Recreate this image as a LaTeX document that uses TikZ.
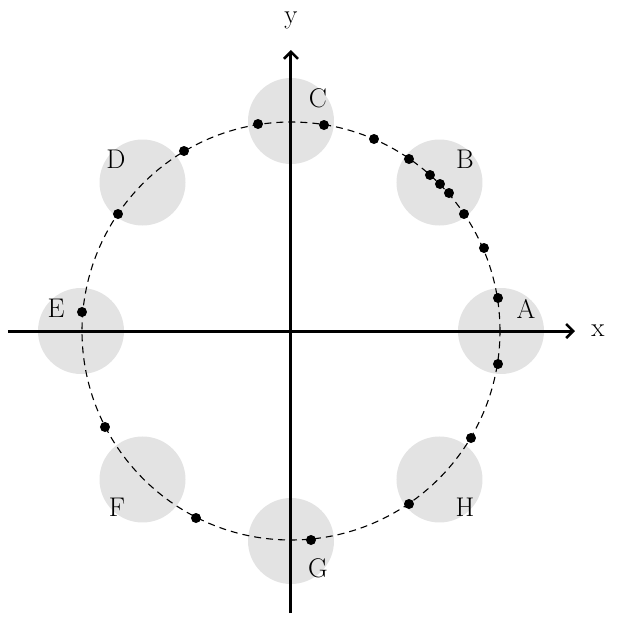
\documentclass[tikz,border=0pt]{standalone}
\usetikzlibrary{arrows.meta}
\begin{document}
\begin{tikzpicture}[x=1pt,y=1pt,
  disc/.style={circle,fill=black!11,minimum size=86pt,inner sep=0pt},
  dot/.style={circle,fill=black,minimum size=10pt,inner sep=0pt},
  lab/.style={font=\fontsize{27}{30}\selectfont},
  axis/.style={line width=3pt,-{Straight Barb[length=7pt,width=14pt,line width=2.5pt]}}]
\useasboundingbox (-291,-294) rectangle (331,331);
\foreach \a/\n in {0/dA,45/dB,90/dC,135/dD,180/dE,225/dF,270/dG,315/dH}
  \node[disc] (\n) at (\a:210) {};
\draw[dashed,line width=1.1pt,dash pattern=on 7pt off 5pt] (0,0) circle (209);
\coordinate (xl) at (-283,0); \coordinate (xr) at (284,0);
\coordinate (yb) at (0,-282); \coordinate (yt) at (0,281);
\draw[axis] (xl) -- (xr);
\draw[axis] (yb) -- (yt);
\node[lab] (lx) at (307,0) {x};
\node[lab] (ly) at (0,311) {y};
\foreach \p [count=\i] in {(-33,207),(33,206),(83,192),(118,172),(139,156),(149,147),(158,138),(173,117),(193,83),(207,33),(207,-33),(180,-107),(118,-173),(20,-209),(-95,-187),(-186,-96),(-209,19),(-173,117),(-107,180)}
  \node[dot] (p\i) at \p {};
\node[lab] (lA) at (235,22) {A};
\node[lab] (lB) at (174,172) {B};
\node[lab] (lC) at (27,233) {C};
\node[lab] (lD) at (-175,172) {D};
\node[lab] (lE) at (-235,23) {E};
\node[lab] (lF) at (-174,-176) {F};
\node[lab] (lG) at (27,-237) {G};
\node[lab] (lH) at (174,-176) {H};
\end{tikzpicture}
\end{document}
